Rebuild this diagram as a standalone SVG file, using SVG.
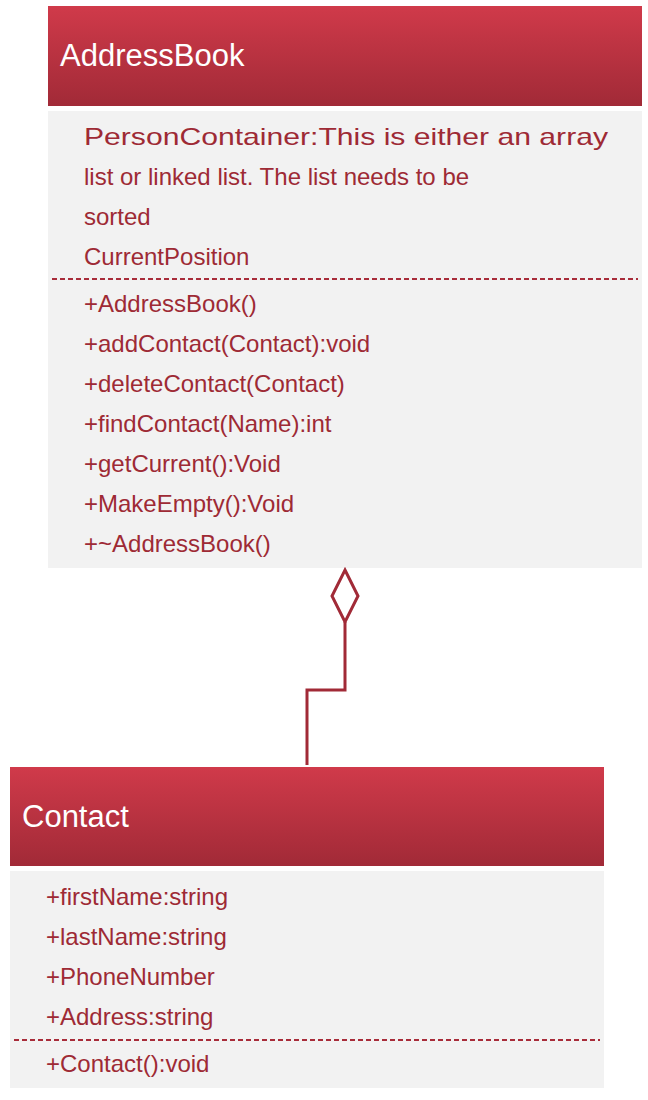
<svg xmlns="http://www.w3.org/2000/svg" width="648" height="1100" viewBox="0 0 648 1100">
<defs>
<linearGradient id="hg" x1="0" y1="0" x2="0" y2="1"><stop offset="0" stop-color="#d03a4a"/><stop offset="1" stop-color="#a12a37"/></linearGradient>
<style>
.hd{fill:url(#hg)}
.bd{fill:#f2f2f2}
.ht{font-family:"Liberation Sans",Arial,sans-serif;font-size:31px;fill:#fff}
.t{font-family:"Liberation Sans",Arial,sans-serif;font-size:24px;fill:#9e2a35}
.ds{stroke:#a82c3a;stroke-width:2;stroke-dasharray:5,3;fill:none}
.cn{stroke:#a12a37;stroke-width:3;fill:none}
</style>
</defs>
<rect width="648" height="1100" fill="#fff"/>
<g id="AddressBook">
<rect class="hd" x="48" y="6" width="594" height="100"/>
<rect class="bd" x="48" y="111" width="594" height="457"/>
<text class="ht" x="60" y="66">AddressBook</text>
<text class="t" x="84" y="145" textLength="524" lengthAdjust="spacingAndGlyphs">PersonContainer:This is either an array</text>
<text class="t" x="84" y="185">list or linked list. The list needs to be</text>
<text class="t" x="84" y="225">sorted</text>
<text class="t" x="84" y="265">CurrentPosition</text>
<line class="ds" x1="52" y1="279" x2="638" y2="279"/>
<text class="t" x="84" y="312">+AddressBook()</text>
<text class="t" x="84" y="352">+addContact(Contact):void</text>
<text class="t" x="84" y="392">+deleteContact(Contact)</text>
<text class="t" x="84" y="432">+findContact(Name):int</text>
<text class="t" x="84" y="472">+getCurrent():Void</text>
<text class="t" x="84" y="512">+MakeEmpty():Void</text>
<text class="t" x="84" y="552">+~AddressBook()</text>
</g>
<g id="Contact">
<rect class="hd" x="10" y="767" width="594" height="99"/>
<rect class="bd" x="10" y="871" width="594" height="217"/>
<text class="ht" x="22" y="827">Contact</text>
<text class="t" x="46" y="905">+firstName:string</text>
<text class="t" x="46" y="945">+lastName:string</text>
<text class="t" x="46" y="985">+PhoneNumber</text>
<text class="t" x="46" y="1025">+Address:string</text>
<line class="ds" x1="14" y1="1040" x2="600" y2="1040"/>
<text class="t" x="46" y="1072">+Contact():void</text>
</g>
<g id="connectors">
<polyline class="cn" points="307,765 307,690 345,690 345,622"/>
<polygon class="cn" fill="#fff" points="345,570 358,596 345,622 332,596"/>
</g>
</svg>
